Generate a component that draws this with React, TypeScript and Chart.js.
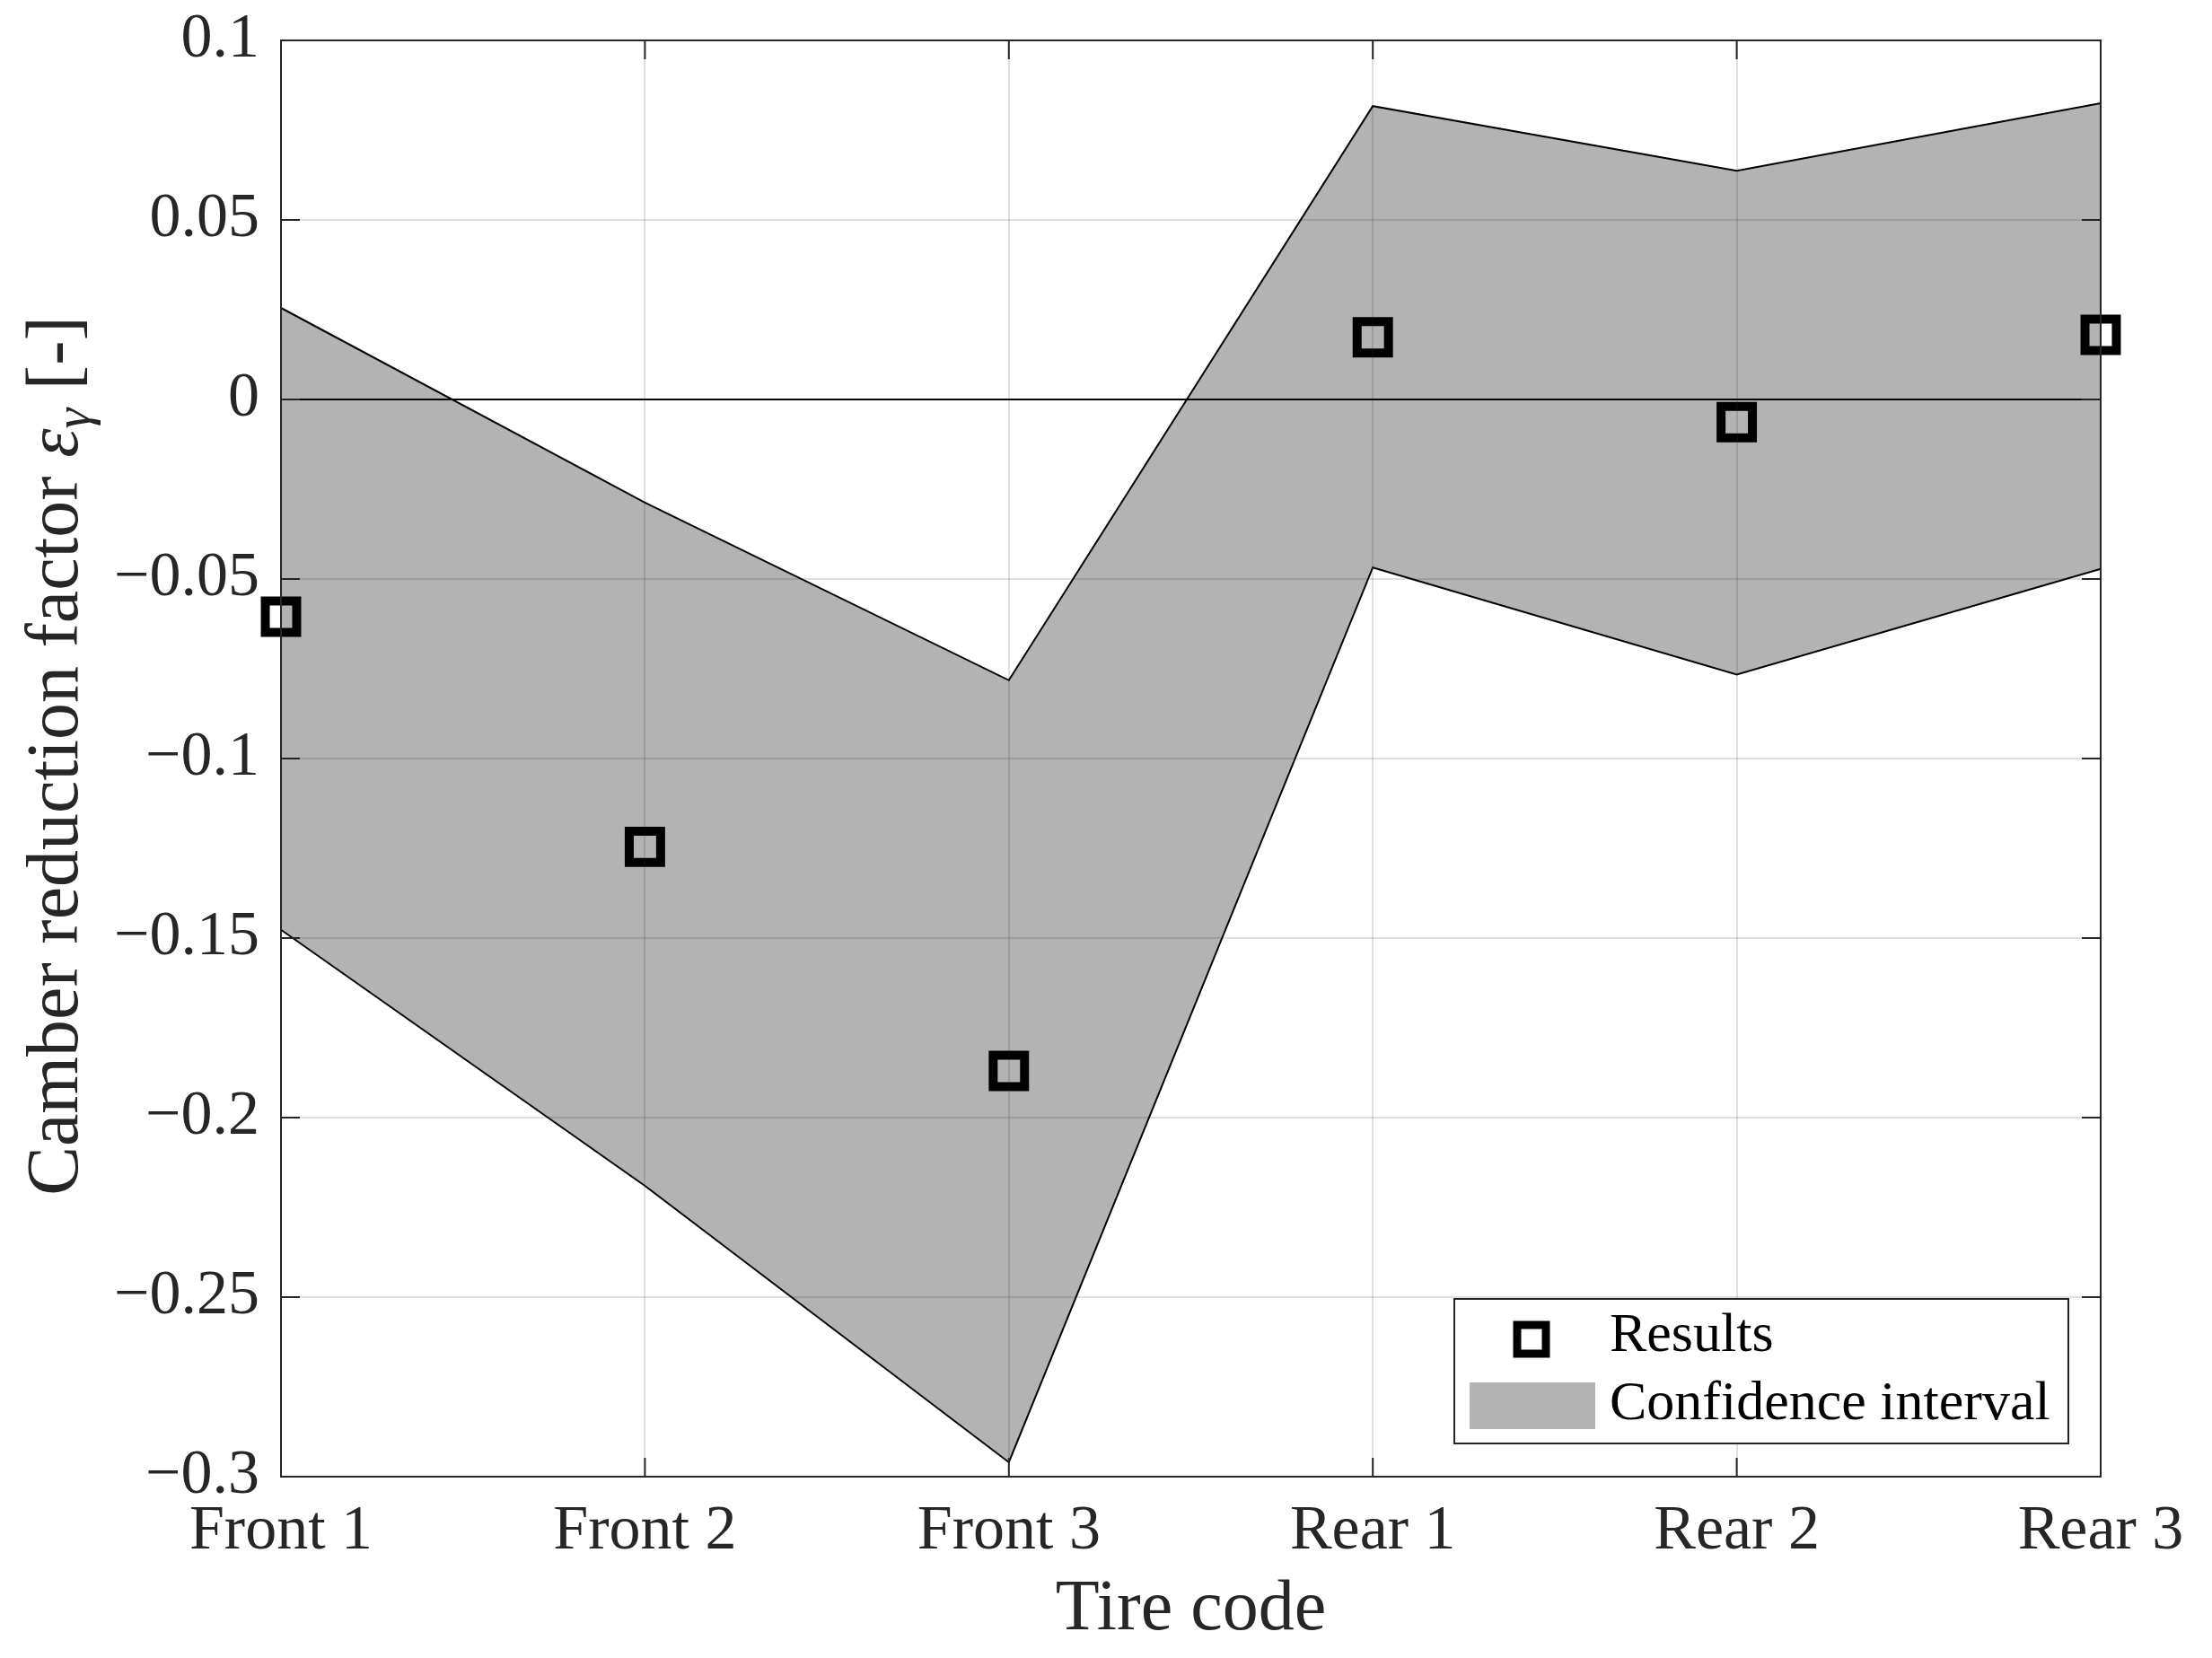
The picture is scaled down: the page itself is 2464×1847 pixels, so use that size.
import React, { useEffect, useRef } from 'react';
import { Chart, registerables } from 'chart.js';

Chart.register(...registerables);

const categories = ['Front 1', 'Front 2', 'Front 3', 'Rear 1', 'Rear 2', 'Rear 3'];
const results = [-0.0605, -0.1246, -0.187, 0.0173, -0.0063, 0.018];
const upperBound = [0.0255, -0.0287, -0.0782, 0.0817, 0.0637, 0.0825];
const lowerBound = [-0.1477, -0.219, -0.296, -0.0468, -0.0766, -0.0472];
const zeroLine = [0, 0, 0, 0, 0, 0];
const yTicks = [0.1, 0.05, 0, -0.05, -0.1, -0.15, -0.2, -0.25, -0.3];

const FONT = '"Liberation Serif", "Times New Roman", serif';
const AXIS_COLOR = '#262626';
const GRID_COLOR = 'rgba(38,38,38,0.15)';

const fmt = (v: number) => {
  const r = Math.round(v * 100) / 100;
  const s = String(Math.abs(r));
  return r < 0 ? '\u2212' + s : s;
};

const decorPlugin = {
  id: 'decor',
  afterDraw(chart: any) {
    const ctx = chart.ctx as CanvasRenderingContext2D;
    const { left, right, top, bottom } = chart.chartArea;
    const xs = chart.scales.x;
    const ys = chart.scales.y;
    ctx.save();
    // box + inward ticks
    ctx.strokeStyle = AXIS_COLOR;
    ctx.lineWidth = 2;
    ctx.beginPath();
    ctx.moveTo(left, top);
    ctx.lineTo(right, top);
    ctx.lineTo(right, bottom);
    ctx.lineTo(left, bottom);
    ctx.lineTo(left, top);
    const tl = 21;
    categories.forEach((_, i) => {
      const px = xs.getPixelForValue(i);
      ctx.moveTo(px, bottom);
      ctx.lineTo(px, bottom - tl);
      ctx.moveTo(px, top);
      ctx.lineTo(px, top + tl);
    });
    yTicks.forEach((v) => {
      const py = ys.getPixelForValue(v);
      ctx.moveTo(left, py);
      ctx.lineTo(left + tl, py);
      ctx.moveTo(right, py);
      ctx.lineTo(right - tl, py);
    });
    ctx.stroke();

    // x axis title
    ctx.fillStyle = AXIS_COLOR;
    ctx.font = `80px ${FONT}`;
    ctx.textAlign = 'center';
    ctx.textBaseline = 'alphabetic';
    ctx.fillText('Tire code', (left + right) / 2, 1815);

    // y axis title (rotated) with subscript
    ctx.save();
    ctx.translate(86, (top + bottom) / 2 - 3);
    ctx.rotate(-Math.PI / 2);
    const pieces = [
      { t: 'Camber reduction factor ', f: `82px ${FONT}`, dy: 0 },
      { t: '\u03b5', f: `italic 82px ${FONT}`, dy: 0 },
      { t: '\u03b3', f: `italic 58px ${FONT}`, dy: 14 },
      { t: ' [-]', f: `82px ${FONT}`, dy: 0 },
    ];
    let total = 0;
    const widths = pieces.map((p) => {
      ctx.font = p.f;
      const w = ctx.measureText(p.t).width;
      total += w;
      return w;
    });
    let x = -total / 2;
    ctx.textAlign = 'left';
    pieces.forEach((p, i) => {
      ctx.font = p.f;
      ctx.fillText(p.t, x, p.dy);
      x += widths[i];
    });
    ctx.restore();

    // legend
    const lx = 1620, ly = 1447, lw = 684, lh = 161;
    ctx.fillStyle = '#ffffff';
    ctx.fillRect(lx, ly, lw, lh);
    ctx.strokeStyle = AXIS_COLOR;
    ctx.lineWidth = 2;
    ctx.strokeRect(lx, ly, lw, lh);
    // marker
    ctx.strokeStyle = '#000000';
    ctx.lineWidth = 9;
    ctx.strokeRect(1706 - 16, 1492 - 16, 32, 32);
    // patch
    ctx.fillStyle = '#b3b3b3';
    ctx.fillRect(1637, 1540, 140, 52);
    ctx.fillStyle = '#000000';
    ctx.font = `62px ${FONT}`;
    ctx.textAlign = 'left';
    ctx.textBaseline = 'alphabetic';
    ctx.fillText('Results', 1793, 1505);
    ctx.fillText('Confidence interval', 1793, 1581);
    ctx.restore();
  },
};

export default function App() {
  const canvasRef = useRef<HTMLCanvasElement | null>(null);

  useEffect(() => {
    const canvas = canvasRef.current;
    if (!canvas) return;
    const chart = new Chart(canvas, {
      type: 'line',
      data: {
        labels: categories,
        datasets: [
          {
            label: 'Results',
            data: results,
            showLine: false,
            pointStyle: 'rect',
            pointRadius: 24.7,
            pointHoverRadius: 24.7,
            pointBorderWidth: 10,
            pointBorderColor: '#000000',
            pointBackgroundColor: 'rgba(0,0,0,0)',
            borderColor: '#000000',
            order: 0,
            clip: false,
          } as any,
          {
            label: 'zero',
            data: zeroLine,
            borderColor: '#000000',
            borderWidth: 2,
            pointRadius: 0,
            fill: false,
            order: 1,
          },
          {
            label: 'Confidence interval',
            data: upperBound,
            borderColor: '#000000',
            borderWidth: 2,
            backgroundColor: '#b3b3b3',
            pointRadius: 0,
            fill: '+1',
            tension: 0,
            order: 3,
          },
          {
            label: 'lower',
            data: lowerBound,
            borderColor: '#000000',
            borderWidth: 2,
            pointRadius: 0,
            fill: false,
            tension: 0,
            order: 2,
          },
        ],
      },
      options: {
        animation: false,
        responsive: false,
        devicePixelRatio: 1,
        events: [],
        layout: { padding: { left: 0, right: 124, top: 45, bottom: 0 } },
        plugins: {
          legend: { display: false },
          tooltip: { enabled: false },
        },
        scales: {
          x: {
            type: 'category',
            offset: false,
            grid: { color: GRID_COLOR, lineWidth: 2, drawTicks: false, z: 1 } as any,
            border: { color: AXIS_COLOR, width: 2, z: 2 } as any,
            ticks: {
              color: AXIS_COLOR,
              font: { family: FONT, size: 70 },
              padding: 20,
              maxRotation: 0,
              autoSkip: false,
            },
            afterFit: (s: any) => {
              s.height = 202;
              s.paddingLeft = 0;
              s.paddingRight = 0;
            },
          },
          y: {
            type: 'linear',
            min: -0.3,
            max: 0.1,
            afterBuildTicks: (s: any) => {
              s.ticks = yTicks.map((v) => ({ value: v }));
            },
            grid: { color: GRID_COLOR, lineWidth: 2, drawTicks: false, z: 1 } as any,
            border: { color: AXIS_COLOR, width: 2, z: 2 } as any,
            ticks: {
              color: AXIS_COLOR,
              font: { family: FONT, size: 70 },
              padding: 24,
              callback: (v: any) => fmt(Number(v)),
            },
            afterFit: (s: any) => {
              s.width = 313;
              s.paddingTop = 0;
              s.paddingBottom = 0;
            },
          },
        },
      },
      plugins: [decorPlugin],
    });
    return () => chart.destroy();
  }, []);

  return (
    <div style={{ position: 'absolute', left: 0, top: 0, width: 2464, height: 1847, background: '#ffffff' }}>
      <canvas ref={canvasRef} width={2464} height={1847} style={{ display: 'block', width: 2464, height: 1847 }} />
    </div>
  );
}
